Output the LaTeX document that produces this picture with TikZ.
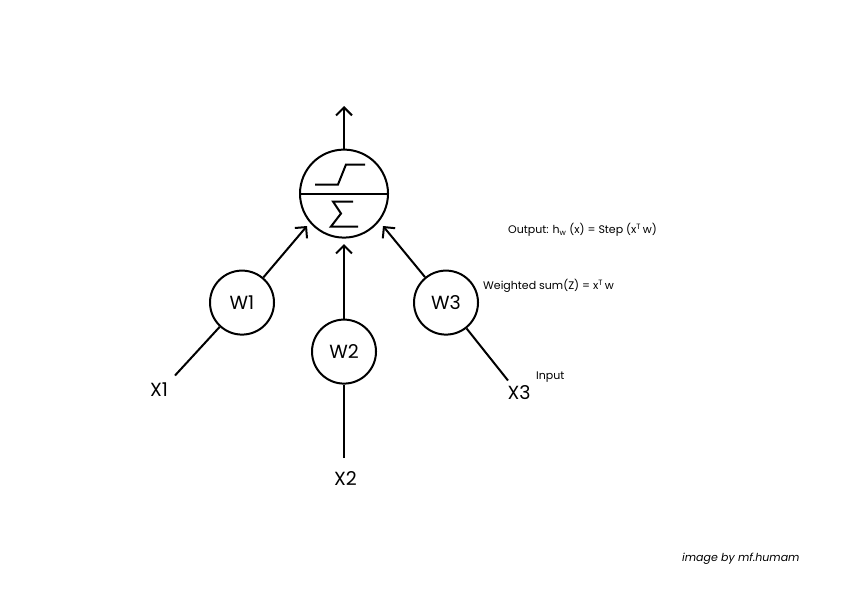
\documentclass[tikz,border=0pt]{standalone}
\usepackage{fontspec}
\setmainfont{Poppins}
\usetikzlibrary{arrows.meta}

\begin{document}
\begin{tikzpicture}[
    x=1pt,
    y=-1pt,
    % Neuron circle style
    unit/.style={
        circle,
        draw=black,
        line width=2pt,
        inner sep=0pt,
        minimum size=64pt,
        font=\fontsize{19}{21}\selectfont
    },
    % Connector style
    link/.style={
        line width=2pt,
        black
    },
    % Arrow style
    arrow/.style={
        link,
        -{Straight Barb[length=8pt,width=16pt,line width=2pt]}
    },
    % Input label style
    inlbl/.style={
        font=\fontsize{19}{21}\selectfont,
        inner sep=0pt
    },
    % Annotation style
    note/.style={
        font=\fontsize{11}{13}\selectfont,
        anchor=west,
        inner sep=0pt
    }
]

\useasboundingbox (0,0) rectangle (842,595);

% === Summation unit ===
\node[unit, minimum size=88pt] (sum) at (344,193.6) {};
\draw[link] (sum.west) -- (sum.east);
\draw[link] (315,184.5) -- (338,184.5) -- (346,164.5) -- (365,164.5);
\draw[link] (353,201.5) -- (333,201.5) -- (341,213.5) -- (331,226.5) -- (358,226.5);

% === Weights ===
\node[unit] (w1) at (242,302.6) {W1};
\node[unit] (w2) at (344,351.6) {W2};
\node[unit] (w3) at (446,302.6) {W3};

% === Inputs ===
\node[inlbl] (x1) at (159,389.5) {X1};
\node[inlbl] (x2) at (345.5,478) {X2};
\node[inlbl] (x3) at (519,392.5) {X3};

% Free ends of the connectors
\coordinate (x1end) at (175,375.5);
\coordinate (x2end) at (344,458);
\coordinate (x3end) at (508,380.5);
\coordinate (tip1) at (307,226);
\coordinate (tip2) at (344,244);
\coordinate (tip3) at (383,226);
\coordinate (tipout) at (344,106);

% === Arrows ===
\draw[link] (x1end) -- (w1);
\draw[link] (x2end) -- (w2);
\draw[link] (x3end) -- (w3);
\draw[arrow] (w1) -- (tip1);
\draw[arrow] (w2) -- (tip2);
\draw[arrow] (w3) -- (tip3);
\draw[arrow] (sum) -- (tipout);

% === Side annotations ===
\node[note] (output) at (508,230) {Output: h\textsubscript{w} (x) = Step (x\textsuperscript{T}\,w)};
\node[note] (wsum) at (483,286) {Weighted sum(Z) = x\textsuperscript{T}\,w};
\node[note] (input) at (536,377.5) {Input};
\node[note, font=\fontsize{11}{13}\selectfont\itshape] (credit) at (682,558.5) {image by mf.humam};

\end{tikzpicture}
\end{document}
